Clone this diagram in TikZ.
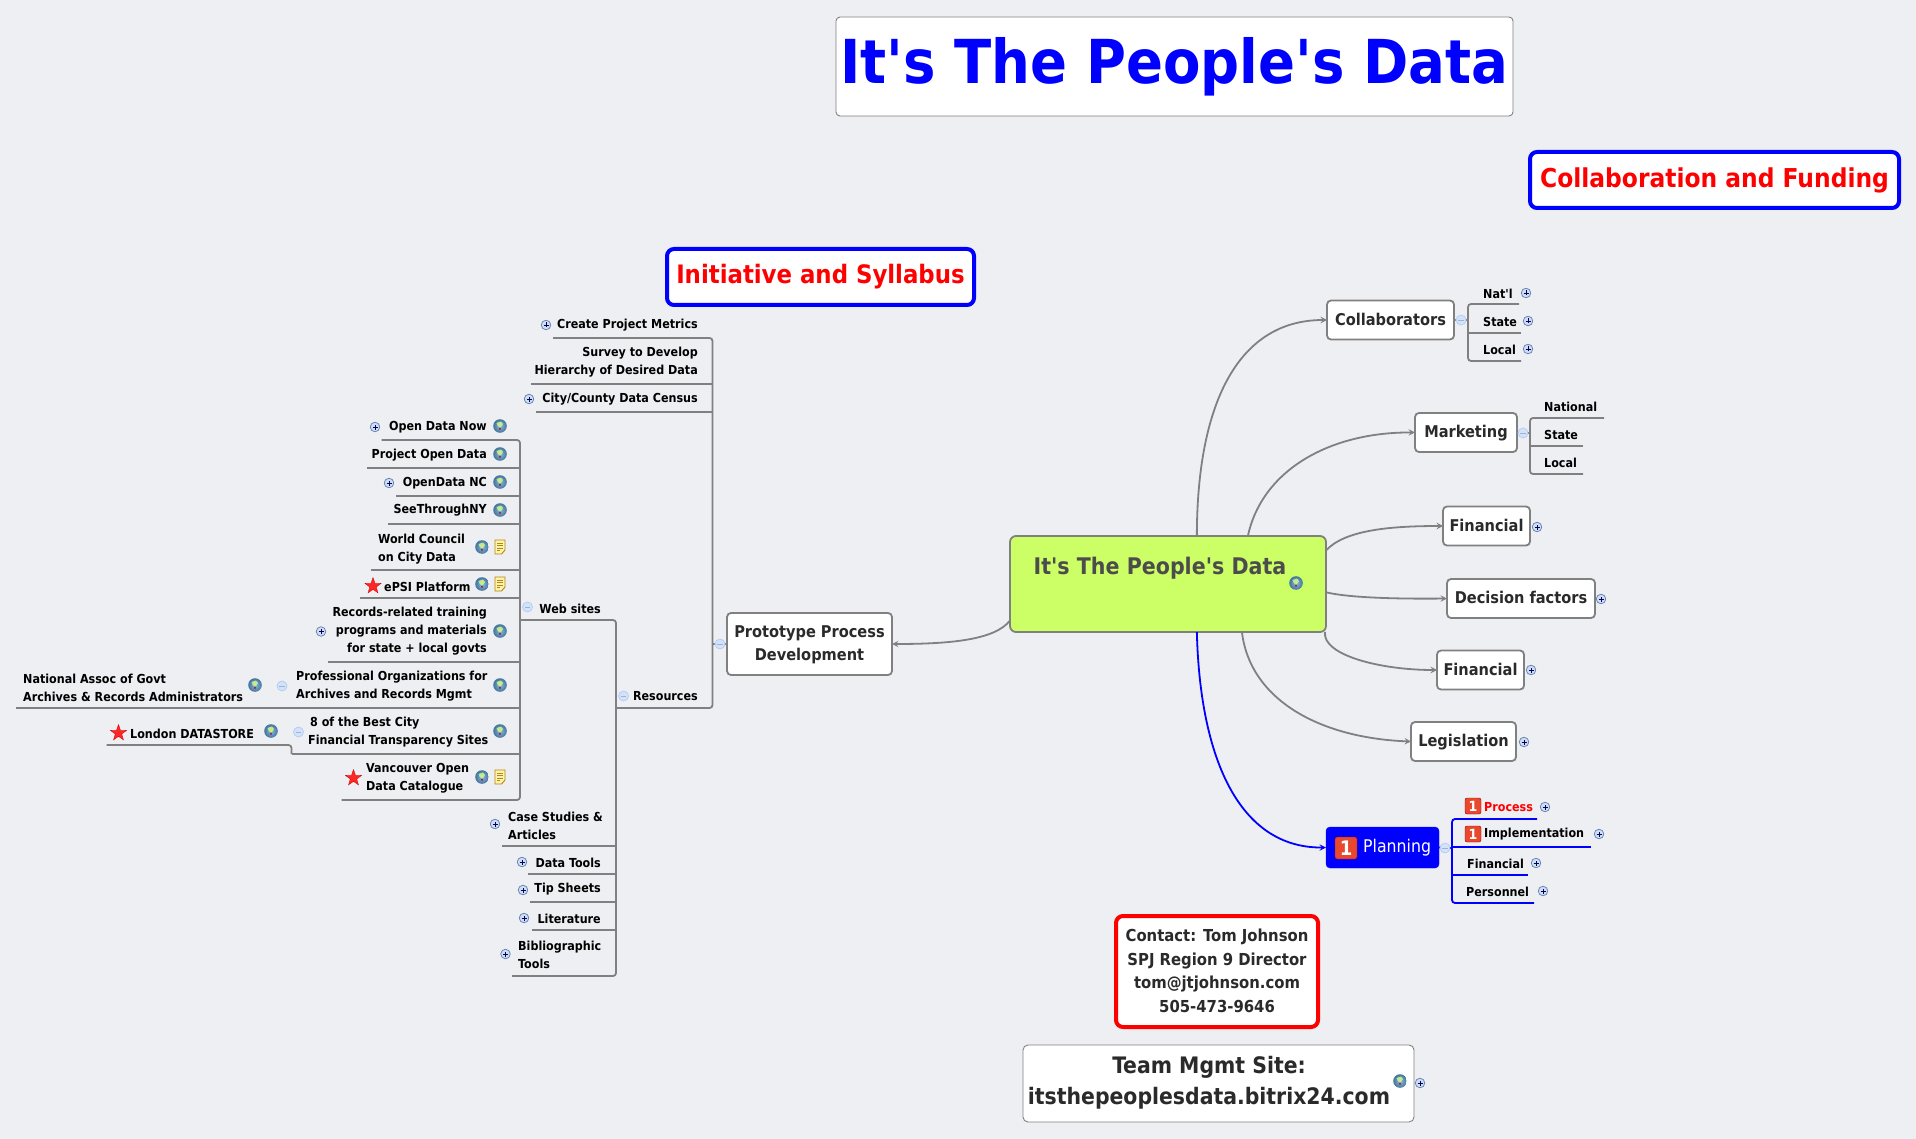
\documentclass[tikz,border=0pt]{standalone}
\usepackage{fontspec}
\setmainfont{DejaVu Sans}
\newfontfamily\condfont{DejaVu Sans Condensed}
\usetikzlibrary{calc}

\definecolor{paper}{HTML}{EEEFF3}
\definecolor{linegray}{HTML}{808080}
\definecolor{inktext}{HTML}{2A2A2A}
\definecolor{limegreen}{HTML}{CCFF66}
\definecolor{plusfill}{HTML}{CFDDF0}
\definecolor{plusline}{HTML}{5F7FAF}
\definecolor{minusfill}{HTML}{D3E2FB}
\definecolor{minusline}{HTML}{B4CBF2}
\definecolor{globeblue}{HTML}{5A9BD0}
\definecolor{notefill}{HTML}{FBF3B0}
\definecolor{noteline}{HTML}{B8860B}
\definecolor{onered}{HTML}{E8492E}

\tikzset{
  sub/.style={inner sep=0pt,text=black,align=left,yshift=-.5pt,font=\condfont\bfseries\fontsize{12.4}{18}\selectfont},
  mainbox/.style={draw=linegray,line width=1.8pt,fill=white,rounded corners=4pt,inner sep=0pt,outer sep=0pt,text=inktext,align=center,text depth=1.5pt,font=\condfont\bfseries\fontsize{16.2}{23}\selectfont},
  bigbox/.style={draw=blue,line width=4pt,fill=white,rounded corners=7pt,inner sep=0pt,text=red,font=\condfont\bfseries\fontsize{26}{30}\selectfont},
  onebox/.style={fill=onered,draw=red!60!black,line width=.4pt,rounded corners=2pt,inner sep=0pt,outer sep=0pt,text=white,font=\condfont\bfseries},
  conn/.style={draw=linegray,line width=1.8pt,-stealth},
  branch/.style={draw=linegray,line width=1.8pt},
  bluebranch/.style={draw=blue,line width=1.8pt},
  globe/.pic={\shade[inner color=globeblue!70!white,outer color=globeblue!75!black] (0,0) circle (6.8pt);
    \fill[green!30!yellow!50!white,opacity=.8] (-3.5pt,3pt) -- (1pt,4.5pt) -- (3pt,2pt) -- (1pt,-1pt) -- (-2pt,-.5pt) -- cycle;
    \fill[red!70!black] (0,-2.8pt) circle (1pt);},
  notemark/.pic={\draw[draw=noteline,fill=notefill,line width=.9pt] (-5pt,7pt) -- (5pt,7pt) -- (5pt,-3pt) -- (1.5pt,-7pt) -- (-5pt,-7pt) -- cycle;
    \draw[noteline,line width=.7pt] (-3pt,4pt) -- (3pt,4pt) (-3pt,1.5pt) -- (3pt,1.5pt) (-3pt,-1pt) -- (3pt,-1pt) (-3pt,-3.5pt) -- (0pt,-3.5pt);},
  starmark/.pic={\fill[red!85!white,draw=red!80!black,line width=.3pt] (90:8.5pt) -- (126:3.4pt) -- (162:8.5pt) -- (198:3.4pt) -- (234:8.5pt) -- (270:3.4pt) -- (306:8.5pt) -- (342:3.4pt) -- (18:8.5pt) -- (54:3.4pt) -- cycle;},
  plusmark/.pic={\draw[draw=plusline,fill=plusfill,line width=.7pt] (0,0) circle (4.8pt);
    \draw[black!60!blue,line width=.7pt] (-2.5pt,0) -- (2.5pt,0) (0,-2.5pt) -- (0,2.5pt);},
  minusmark/.pic={\draw[draw=minusline,fill=minusfill,line width=.7pt] (0,0) circle (5pt);
    \draw[plusline!60,line width=.8pt] (-2.6pt,0) -- (2.6pt,0);}
}

\begin{document}
\begin{tikzpicture}[x=1pt,y=-1pt]
\useasboundingbox (0,0) rectangle (1916,1139);
\fill[paper] (0,0) rectangle (1916,1139);

% banners
\node[draw=gray,line width=.9pt,fill=white,rounded corners=4pt,minimum width=677pt,minimum height=99pt,inner sep=0pt,text=blue,font=\condfont\bfseries\fontsize{60.6}{66}\selectfont] (title) at (1174.5,66.5) {It's The People's Data};
\node[bigbox,minimum width=369pt,minimum height=56pt] (funding) at (1714.5,180) {Collaboration and Funding};
\node[bigbox,minimum width=307pt,minimum height=56pt,font=\condfont\bfseries\fontsize{25.4}{30}\selectfont] (syllabus) at (820.5,277) {Initiative and Syllabus};

% central topic
\node[mainbox,fill=limegreen,minimum width=316pt,minimum height=96pt,rounded corners=6pt] (center) at (1168,584) {};
\node[inner sep=0pt,text=black!70,font=\condfont\bfseries\fontsize{22.9}{28}\selectfont] (centerlabel) at (1160,568) {It's The People's Data};
\pic at (1296,583) {globe};

% main topics
\node[mainbox,minimum width=127pt,minimum height=39pt] (collab) at (1390.5,320) {Collaborators};
\node[mainbox,minimum width=102pt,minimum height=39pt] (market) at (1466,432.5) {Marketing};
\node[mainbox,minimum width=87pt,minimum height=39pt] (finone) at (1486.5,526) {Financial};
\node[mainbox,minimum width=148pt,minimum height=39pt] (decision) at (1521,598.5) {Decision factors};
\node[mainbox,minimum width=87pt,minimum height=39pt] (fintwo) at (1480.5,670) {Financial};
\node[mainbox,minimum width=105pt,minimum height=39pt] (legis) at (1463.5,741.5) {Legislation};
\node[mainbox,minimum width=165pt,minimum height=62pt] (proto) at (809.5,644) {Prototype Process\\Development};
\node[draw=blue,fill=blue,rounded corners=4pt,minimum width=113pt,minimum height=41pt,inner sep=0pt,outer sep=0pt] (planning) at (1382.5,847.5) {};
\node[onebox,minimum size=22pt,font=\condfont\bfseries\fontsize{20}{20}\selectfont] (planningone) at (1346,848) {1};
\node[right,inner sep=0pt,text=white,font=\condfont\fontsize{17.5}{20}\selectfont] (planninglabel) at (1363,848) {Planning};

% contact boxes
\node[mainbox,draw=red,line width=4pt,rounded corners=7pt,minimum width=202pt,minimum height=111pt,font=\condfont\bfseries\fontsize{16.5}{23.5}\selectfont] (contact) at (1217,971.5) {Contact: Tom Johnson\\SPJ Region 9 Director\\tom@jtjohnson.com\\505-473-9646};
\node[draw=gray,line width=.9pt,fill=white,rounded corners=5pt,minimum width=391pt,minimum height=77pt,inner sep=0pt] (team) at (1218.5,1083.5) {};
\node[inner sep=0pt,text=inktext,align=center,font=\condfont\bfseries\fontsize{22.7}{31}\selectfont] (teamlabel) at (1209,1083) {Team Mgmt Site:\\itsthepeoplesdata.bitrix24.com};
\pic at (1400,1081) {globe};
\pic at (1420,1083) {plusmark};

% curves from the centre
\draw[conn] (center.59) .. controls (1197,400) and (1240,320) .. (collab.west);
\draw[conn] (center.31) .. controls (1262,470) and (1330,432) .. (market.west);
\draw[conn] (center.12.5) .. controls (1345,530) and (1390,526) .. (finone.west);
\draw[conn] (center.-3) .. controls (1350,598) and (1400,599) .. (decision.west);
\draw[conn] (center.-17.6) .. controls (1322,655) and (1380,670) .. (fintwo.west);
\draw[conn] (center.-33) .. controls (1250,700) and (1320,738) .. (legis.west);
\draw[conn,draw=blue] (center.-59) .. controls (1200,760) and (1240,848) .. (planning.west);
\draw[conn] (center.193.5) .. controls (995,640) and (950,644) .. (proto.east);
\pic at (1537,527) {plusmark};
\pic at (1601,599) {plusmark};
\pic at (1531,670) {plusmark};
\pic at (1524,742) {plusmark};

% collaborators
\coordinate (collabspine) at (1468,320);
\node[sub,right] (natl) at (1483,293) {Nat'l};
\node[sub,right] (cstate) at (1483,321) {State};
\node[sub,right] (clocal) at (1483,349) {Local};
\coordinate (natlline) at (1519,304);
\coordinate (cstateline) at (1521,333);
\coordinate (clocalline) at (1521,361);
\draw[branch,rounded corners=3pt] (natlline) -- (natlline -| collabspine) -- (clocalline -| collabspine) -- (clocalline);
\draw[branch] (cstateline) -- (cstateline -| collabspine);
\draw[branch] (collab.east) -- (collabspine);
\pic at (1461,320) {minusmark};
\pic at (1526,293) {plusmark};
\pic at (1528,321) {plusmark};
\pic at (1528,349) {plusmark};

% marketing
\coordinate (marketspine) at (1530,433);
\node[sub,right] (national) at (1544,406) {National};
\node[sub,right] (mstate) at (1544,434) {State};
\node[sub,right] (mlocal) at (1544,462) {Local};
\coordinate (nationalline) at (1604,418);
\coordinate (mstateline) at (1583,446);
\coordinate (mlocalline) at (1583,474);
\draw[branch,rounded corners=3pt] (nationalline) -- (nationalline -| marketspine) -- (mlocalline -| marketspine) -- (mlocalline);
\draw[branch] (mstateline) -- (mstateline -| marketspine);
\draw[branch] (market.east) -- (marketspine);
\pic at (1523,433) {minusmark};

% planning
\coordinate (planspine) at (1452,848);
\node[onebox,minimum size=16pt,font=\condfont\bfseries\fontsize{14}{14}\selectfont] (processone) at (1473,806) {1};
\node[onebox,minimum size=16pt,font=\condfont\bfseries\fontsize{14}{14}\selectfont] (implone) at (1473,834) {1};
\node[sub,right,text=red] (process) at (1484,807) {Process};
\node[sub,right] (impl) at (1484,834) {Implementation};
\node[sub,right] (pfin) at (1467,863) {Financial};
\node[sub,right] (personnel) at (1466,891) {Personnel};
\coordinate (processline) at (1537,819);
\coordinate (implline) at (1591,847);
\coordinate (pfinline) at (1528,875);
\coordinate (personnelline) at (1534,903);
\draw[bluebranch,rounded corners=3pt] (processline) -- (processline -| planspine) -- (personnelline -| planspine) -- (personnelline);
\draw[bluebranch] (implline) -- (implline -| planspine);
\draw[bluebranch] (pfinline) -- (pfinline -| planspine);
\draw[bluebranch] (planning.east) -- (planspine);
\pic at (1445,848) {minusmark};
\pic at (1545,807) {plusmark};
\pic at (1599,834) {plusmark};
\pic at (1536,863) {plusmark};
\pic at (1543,891) {plusmark};

% resources level
\coordinate (resspine) at (712.5,644);
\node[sub,left] (metrics) at (698,325) {Create Project Metrics};
\node[sub,left,align=right] (survey) at (698,362) {Survey to Develop\\Hierarchy of Desired Data};
\node[sub,left] (census) at (698,399) {City/County Data Census};
\node[sub,left] (resources) at (698,696) {Resources};
\coordinate (metricsline) at (553,338);
\coordinate (surveyline) at (531,384);
\coordinate (censusline) at (536,412);
\coordinate (resline) at (616,708);
\draw[branch,rounded corners=3pt] (metricsline) -- (metricsline -| resspine) -- (resline -| resspine) -- (resline);
\draw[branch] (surveyline) -- (surveyline -| resspine);
\draw[branch] (censusline) -- (censusline -| resspine);
\draw[branch] (proto.west) -- (resspine);
\pic at (720,644) {minusmark};
\pic at (546,325) {plusmark};
\pic at (529,399) {plusmark};
\pic at (623.5,696) {minusmark};

% second level
\coordinate (sitespine) at (616,800);
\node[sub,left] (websites) at (601,608) {Web sites};
\node[sub,right] (cases) at (508,825) {Case Studies \&\\Articles};
\node[sub,left] (datatools) at (601,862) {Data Tools};
\node[sub,left] (tips) at (601,889) {Tip Sheets};
\node[sub,left] (literature) at (601,918) {Literature};
\node[sub,right] (biblio) at (518,954.5) {Bibliographic\\Tools};
\coordinate (websitesline) at (520,620);
\coordinate (casesline) at (502,846);
\coordinate (datatoolsline) at (528,874);
\coordinate (tipsline) at (530,902);
\coordinate (literatureline) at (532,930);
\coordinate (biblioline) at (512,976);
\draw[branch,rounded corners=3pt] (websitesline) -- (websitesline -| sitespine) -- (biblioline -| sitespine) -- (biblioline);
\draw[branch] (casesline) -- (casesline -| sitespine);
\draw[branch] (datatoolsline) -- (datatoolsline -| sitespine);
\draw[branch] (tipsline) -- (tipsline -| sitespine);
\draw[branch] (literatureline) -- (literatureline -| sitespine);
\pic at (527.5,607) {minusmark};
\pic at (495,824) {plusmark};
\pic at (522,862) {plusmark};
\pic at (523,890) {plusmark};
\pic at (524,918) {plusmark};
\pic at (505.5,954) {plusmark};

% web sites
\coordinate (webspine) at (520,620);
\node[sub,left] (opennow) at (487,427) {Open Data Now};
\node[sub,left] (project) at (487,455) {Project Open Data};
\node[sub,left] (opennc) at (487,483) {OpenData NC};
\node[sub,left] (through) at (487,510) {SeeThroughNY};
\node[sub,right] (council) at (378,548.5) {World Council\\on City Data};
\node[sub,right] (epsi) at (384,586) {ePSI Platform};
\node[sub,left,align=right] (records) at (487,631) {Records-related training\\programs and materials\\for state + local govts};
\node[sub,right] (profs) at (296,686) {Professional Organizations for\\Archives and Records Mgmt};
\node[sub,right] (assoc) at (23,687) {National Assoc of Govt\\Archives \& Records Administrators};
\node[sub,right] (bestcity) at (308,732) {\hspace{2pt}8 of the Best City\\Financial Transparency Sites};
\node[sub,right] (london) at (130,733) {London DATASTORE};
\node[sub,right] (vancouver) at (366,778) {Vancouver Open\\Data Catalogue};
\coordinate (opennowline) at (381.5,440);
\coordinate (projectline) at (367,468);
\coordinate (openncline) at (396,496);
\coordinate (throughline) at (387.5,524);
\coordinate (councilline) at (371,570);
\coordinate (epsiline) at (360,598);
\coordinate (recordsline) at (328,662);
\coordinate (profsline) at (16,708);
\coordinate (bestcityline) at (291.5,754);
\coordinate (londonline) at (106.5,745);
\coordinate (vancouverline) at (341.5,800);
\draw[branch,rounded corners=3pt] (opennowline) -- (opennowline -| webspine) -- (vancouverline -| webspine) -- (vancouverline);
\draw[branch] (projectline) -- (projectline -| webspine);
\draw[branch] (openncline) -- (openncline -| webspine);
\draw[branch] (throughline) -- (throughline -| webspine);
\draw[branch] (councilline) -- (councilline -| webspine);
\draw[branch] (epsiline) -- (epsiline -| webspine);
\draw[branch] (recordsline) -- (recordsline -| webspine);
\draw[branch] (profsline) -- (profsline -| webspine);
\draw[branch] (bestcityline -| webspine) -- (bestcityline);
\draw[branch,rounded corners=3pt] (bestcityline) -- (bestcityline |- londonline) -- (londonline);

\pic at (500,426) {globe};
\pic at (500,454) {globe};
\pic at (500,482) {globe};
\pic at (500,510) {globe};
\pic at (482,547) {globe};
\pic at (500,547) {notemark};
\pic at (482,584) {globe};
\pic at (500,584) {notemark};
\pic at (500,631) {globe};
\pic at (500,685) {globe};
\pic at (255,685) {globe};
\pic at (500,731) {globe};
\pic at (271,731) {globe};
\pic at (482,777) {globe};
\pic at (500,777) {notemark};
\pic at (373,586) {starmark};
\pic at (118.5,733) {starmark};
\pic at (353.5,778) {starmark};
\pic at (375,427) {plusmark};
\pic at (389,483) {plusmark};
\pic at (321,631.5) {plusmark};
\pic at (282,686) {minusmark};
\pic at (298.5,732) {minusmark};
\end{tikzpicture}
\end{document}
